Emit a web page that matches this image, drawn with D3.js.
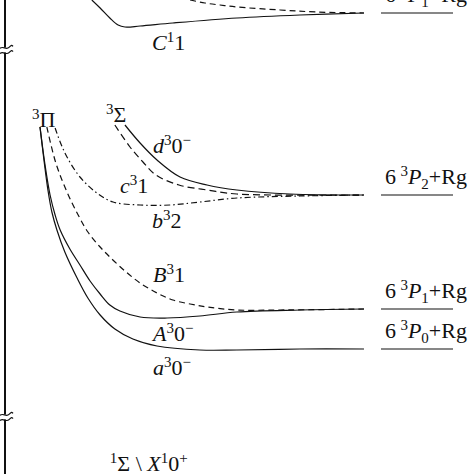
<!DOCTYPE html>
<html><head><meta charset="utf-8">
<script src="https://cdn.jsdelivr.net/npm/d3@7"></script>
<style>body{margin:0;background:#fff}svg{display:block}</style>
</head><body>
<svg id="c" width="474" height="474"></svg>
<script>
// Internuclear distance R (arb. units) and energy E (arb. units)
const R_C1 = [2.44, 2.67, 2.94, 3.17, 3.36, 3.78, 4.69, 6.47, 8.22, 10];
const E_C1 = [47.4, 46.6, 45.6, 44.9, 44.7, 44.8, 45.1, 45.6, 45.9, 46.1];
const R_top2 = [5.17, 5.58, 6.0, 6.47, 7.67, 8.67, 10];
const E_top2 = [47.4, 47.1, 46.9, 46.7, 46.4, 46.2, 46.1];

const R_d30 = [3.36, 3.78, 4.25, 4.89, 5.64, 6.47, 7.94, 10];
const E_d30 = [34.9, 33.1, 31.4, 29.7, 28.9, 28.4, 28.0, 27.9];
const R_c31 = [3.08, 3.5, 3.86, 4.22, 4.86, 5.64, 6.47, 10];
const E_c31 = [34.9, 32.7, 31.2, 29.9, 28.9, 28.4, 28.0, 27.9];
const R_b32 = [1.42, 1.56, 1.75, 2.11, 2.58, 3.03, 3.78, 4.61, 5.44, 6.47, 8.22, 10];
const E_b32 = [34.6, 33.2, 31.7, 29.7, 28.1, 27.2, 26.9, 26.9, 27.2, 27.6, 27.8, 27.9];

const R_B31 = [1.19, 1.44, 1.75, 2.06, 2.33, 2.67, 2.94, 3.36, 3.78, 4.25, 4.69, 5.17, 5.64, 6.47, 7.67, 10];
const E_B31 = [34.7, 31.1, 28.2, 25.9, 24.2, 22.7, 21.7, 20.3, 19.1, 18.1, 17.4, 17.0, 16.7, 16.4, 16.4, 16.5];
const R_A30 = [1.0, 1.14, 1.28, 1.42, 1.56, 1.83, 2.11, 2.39, 2.67, 2.94, 3.22, 3.78, 4.53, 5.44, 6.47, 8.22, 10];
const E_A30 = [34.7, 30.9, 27.9, 25.9, 24.4, 22.5, 20.9, 19.3, 18.0, 16.9, 16.3, 15.7, 15.6, 15.8, 16.2, 16.4, 16.5];
const R_a30 = [1.0, 1.11, 1.22, 1.33, 1.47, 1.69, 2.03, 2.33, 2.67, 3.08, 3.58, 4.25, 5.44, 6.47, 8.22, 10];
const E_a30 = [34.7, 31.4, 28.4, 26.2, 24.4, 22.2, 19.6, 17.6, 15.9, 14.5, 13.5, 12.8, 12.4, 12.4, 12.5, 12.5];

// dissociation limits 6³P_J + Rg
const limitJ = ["1", "2", "1", "0"];
const limitE = [46.1, 27.9, 16.5, 12.5];

// axis breaks (energy)
const breakE = [42.4, 5.7];

// state labels: [R, E, parts]
const labelR = [4.11, 0.78, 2.83, 4.14, 3.22, 4.11, 4.14, 4.14, 4.14, 2.94];
const labelE = [42.4, 34.7, 35.2, 32.1, 28.1, 24.6, 19.2, 13.3, 9.9, 0.3];
const labelParts = [
  [["C","i"],["1","sup"],["1",""]],
  [["3","sup"],["Π",""]],
  [["3","sup"],["Σ",""]],
  [["d","i"],["3","sup"],["0",""],["−","sup"]],
  [["c","i"],["3","sup"],["1",""]],
  [["b","i"],["3","sup"],["2",""]],
  [["B","i"],["3","sup"],["1",""]],
  [["A","i"],["3","sup"],["0",""],["−","sup"]],
  [["a","i"],["3","sup"],["0",""],["−","sup"]],
  [["1","sup"],["Σ \\ ",""],["X","i"],["1","sup"],["0",""],["+","sup"]]
];

const svg = d3.select("#c");
const x = d3.scaleLinear().domain([0, 10]).range([4, 364]);
const y = d3.scaleLinear().domain([0, 47.4]).range([474, 0]);
const ink = "#111";

const line = d3.line().x(d => x(d[0])).y(d => y(d[1])).curve(d3.curveCatmullRom.alpha(0.5));
const zip = (a, b) => a.map((v, i) => [v, b[i]]);

const curves = [
  [R_C1, E_C1, null],
  [R_top2, E_top2, "6,4"],
  [R_d30, E_d30, null],
  [R_c31, E_c31, "7,4"],
  [R_b32, E_b32, "6,3,1.5,3"],
  [R_B31, E_B31, "6,4"],
  [R_A30, E_A30, null],
  [R_a30, E_a30, null]
];
curves.forEach(([r, e, dash]) => {
  svg.append("path").attr("d", line(zip(r, e)))
    .attr("fill", "none").attr("stroke", ink).attr("stroke-width", 1.2)
    .attr("stroke-dasharray", dash);
});

// axis with breaks
const ax = 5;
const gap = 2.6;
const bY = breakE.map(e => y(e)).sort((a, b) => a - b);
const segs = [[0, bY[0] - gap], [bY[0] + gap, bY[1] - gap], [bY[1] + gap, 474]];
segs.forEach(([a, b]) => svg.append("line").attr("x1", ax).attr("x2", ax).attr("y1", a).attr("y2", b)
  .attr("stroke", ink).attr("stroke-width", 2));
bY.forEach(by => {
  [-gap, gap].forEach(o => {
    const yy = by + o;
    svg.append("path").attr("d", `M0,${yy + 1} C3,${yy - 2} 6,${yy + 3} 9,${yy} S12,${yy - 2} 13,${yy - 1}`)
      .attr("fill", "none").attr("stroke", ink).attr("stroke-width", 1.2);
  });
});

// text helper
function label(px, py, parts) {
  const t = svg.append("text").attr("x", px).attr("y", py)
    .attr("font-family", "'Liberation Serif', 'DejaVu Serif', serif")
    .attr("font-size", 22).attr("fill", ink);
  let cur = 0;
  parts.forEach(([s, k]) => {
    const target = k === "sup" ? -8.5 : k === "sub" ? 5 : 0;
    const ts = t.append("tspan").text(s).attr("dy", target - cur);
    cur = target;
    if (k === "i") ts.attr("font-style", "italic");
    if (k === "sup" || k === "sub") ts.attr("font-size", 15);
  });
  return t;
}

labelParts.forEach((p, i) => label(x(labelR[i]), y(labelE[i]), p));

// dissociation limits
limitE.forEach((e, i) => {
  svg.append("line").attr("x1", 381).attr("x2", 453).attr("y1", y(e)).attr("y2", y(e))
    .attr("stroke", ink).attr("stroke-width", 1.2);
  label(385, y(e) - 11, [["6",""],["\u2009",""],["3","sup"],["P","i"],[limitJ[i],"sub"],["+",""],["Rg",""]]);
});
</script>
</body></html>
